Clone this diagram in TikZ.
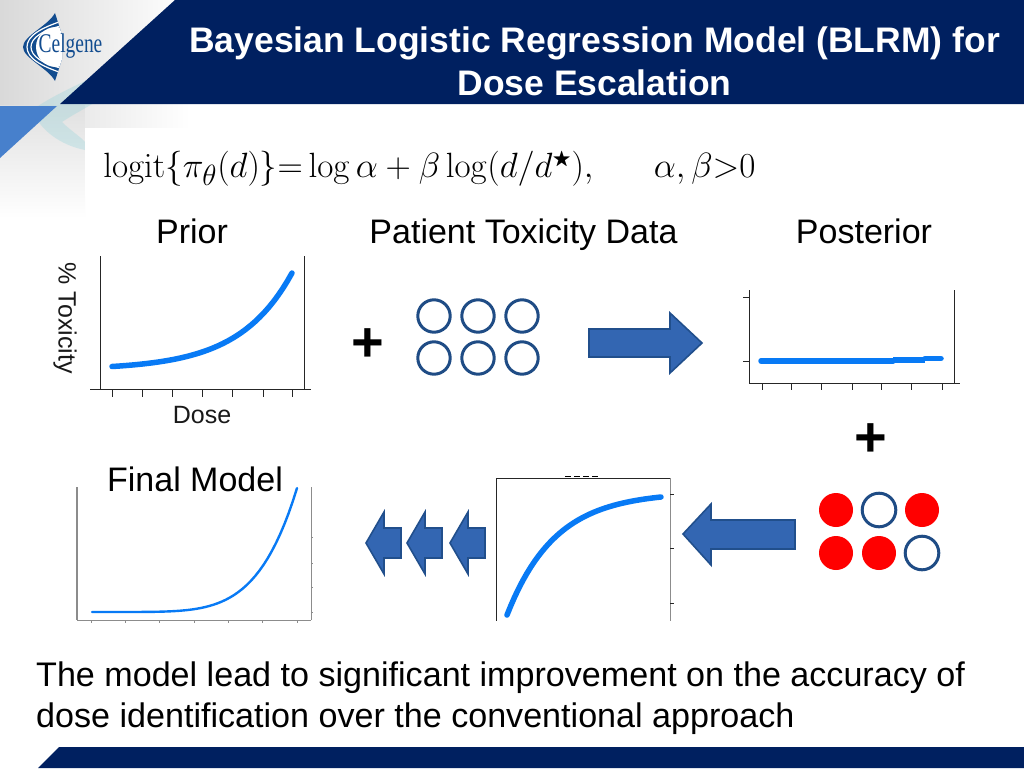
\documentclass[tikz,border=0pt]{standalone}
\usepackage{amsmath}
\usepackage{amssymb}
\usepackage[no-math]{fontspec}
\setmainfont{Liberation Sans}
\newfontfamily\logofont{Liberation Serif}
\usetikzlibrary{positioning}
\usetikzlibrary{fadings}
\definecolor{mnavy}{rgb}{0, 0.125, 0.376}
\definecolor{mblue}{rgb}{0.2, 0.4, 0.7}
\definecolor{mborder}{rgb}{0.13, 0.31, 0.55}
\definecolor{mring}{rgb}{0.12, 0.3, 0.52}
\definecolor{mcurve}{rgb}{0.03, 0.48, 0.96}
\definecolor{mteal}{rgb}{0.55, 0.82, 0.85}
\definecolor{mtri}{rgb}{0.28, 0.5, 0.8}
\definecolor{mlogo}{rgb}{0.07, 0.3, 0.56}
\tikzset{
  bigarrow/.style={draw=mborder, fill=mblue, line width=1.6pt, line join=miter},
  axisline/.style={line width=1pt, black!85},
  greyaxis/.style={line width=1pt, black!45},
  heading/.style={font=\fontsize{34}{34}\selectfont, text=black, inner sep=0pt, anchor=base},
  small/.style={font=\fontsize{25}{25}\selectfont, text=black!90, inner sep=0pt},
  plus/.style={font=\fontsize{56}{56}\selectfont\bfseries, text=black, inner sep=0pt},
  ring/.style={draw=mring, line width=3pt, fill=white},
  redring/.style={fill=red}
}

\begin{document}
\begin{tikzpicture}[x=1pt, y=-1pt]
      \useasboundingbox (0, 0) rectangle (1024, 768);
      % background
      \fill [white] (0, 0) rectangle (1024, 768);
      \shade [left color=black!15, right color=white] (0, 0) rectangle (190, 105);
      \shade [top color=black!12, bottom color=white] (0, 105) rectangle (85, 218);
      \shade [left color=black!8, right color=white] (85, 105) rectangle (190, 128);
      \fill [mteal, opacity=0.3] (32, 110) .. controls (75, 80) and (120, 75) .. (150, 28)
        -- (165, 18) .. controls (135, 90) and (95, 100) .. (62, 122)
        .. controls (75, 135) and (95, 145) .. (85, 150) .. controls (60, 145) and (40, 130) .. (32, 110);
      \fill [mnavy] (175, 0) -- (1024, 0) -- (1024, 104) -- (60, 104) -- (175, 0);
      \fill [mtri] (0, 106) -- (57, 106) -- (0, 158) -- (0, 106);
      \fill [mnavy] (59, 747) -- (1024, 747) -- (1024, 768) -- (38, 768) -- (59, 747);
      \fill [white] (85, 128) rectangle (1024, 196);
      % logo
      \begin{scope}
        \clip (55, 13) .. controls (48, 26) and (23, 36) .. (23, 47)
          .. controls (23, 58) and (48, 68) .. (55, 81) -- (62, 59) -- (62, 35) -- cycle;
        \fill [mlogo] (15, 5) rectangle (70, 90);
        \draw [white, line width=1.2pt] (65, 20) .. controls (40, 28) and (27, 36) .. (27, 47) .. controls (27, 58) and (40, 66) .. (65, 74);
        \draw [white, line width=1.2pt] (65, 25) .. controls (42, 30) and (31, 38) .. (31, 47) .. controls (31, 56) and (42, 64) .. (65, 69);
        \fill [white] (56, 47) circle (20);
      \end{scope}
      \node (logo) [text=mlogo, font=\logofont\fontsize{27}{27}\selectfont, inner sep=0pt, xscale=0.72] at (70.5, 46) {Celgene};
      % title and formula
      \node (title) [align=center, text=white, inner sep=0pt, font=\fontsize{35.5}{43}\selectfont\bfseries] at (594.5, 61.5)
        {Bayesian Logistic Regression Model (BLRM) for\\Dose Escalation};
      \node (formula) [inner sep=0pt, anchor=base west, text=black, scale=1.41, font=\fontsize{24.88}{30}\selectfont] at (103, 177)
        {$\mathrm{logit}\{\pi_{\theta}(d)\}{=}\log\alpha+\beta\log(d/d^{\scalebox{0.55}{$\bigstar$}}),\quad\ \ \alpha,\beta{>}0$};
      % headings
      \node (prior) [heading] at (192, 243) {Prior};
      \node (data) [heading] at (523.5, 243) {Patient Toxicity Data};
      \node (posterior) [heading] at (864, 243) {Posterior};
      \node (final) [heading] at (195, 491) {Final Model};
      \node (plusa) [plus] at (368, 345) {+};
      \node (plusb) [plus] at (871, 440) {+};
      % prior plot
      \draw [axisline] (100, 256) -- (100, 389);
      \draw [axisline] (304, 256) -- (304, 389);
      \draw [axisline] (90, 389) -- (311, 389);
      \foreach \x in {112, 142, 172, 202, 232, 263, 292}
        \draw [axisline] (\x, 389) -- (\x, 397);
      \draw [mcurve, line width=5.5pt, line cap=round] plot [domain=112:292, samples=40]
        (\x, {366.5 - 93.5*(exp(3.4*(\x - 112)/180) - 1)/(exp(3.4) - 1)});
      \node (dose) [small] at (202, 415) {Dose};
      \node (toxicity) [small, rotate=-90] at (65, 318) {\% Toxicity};
      % rings
      \foreach \x in {434, 478, 522}
        \foreach \y in {316, 358}
          \draw [ring] (\x, \y) circle (16.2);
      \draw [bigarrow] (589, 329) -- (670, 329) -- (670, 313) -- (702, 343) -- (670, 373) -- (670, 357) -- (589, 357) -- cycle;
      % posterior plot
      \draw [axisline] (749, 290) -- (749, 383);
      \draw [axisline] (954, 290) -- (954, 383);
      \draw [axisline] (749, 383) -- (960, 383);
      \foreach \y in {297, 361}
        \draw [axisline] (743, \y) -- (749, \y);
      \foreach \x in {762, 791, 821, 852, 881, 911, 942}
        \draw [axisline] (\x, 383) -- (\x, 390);
      \draw [mcurve, line width=5.5pt, line cap=round] (761, 361) -- (893, 361);
      \draw [mcurve, line width=5.5pt] (893, 360) -- (925, 360);
      \draw [mcurve, line width=5.5pt, line cap=round] (925, 358.5) -- (941, 358.5);
      % patient rings
      \foreach \x/\y/\c in {836/510/redring, 922/510/redring, 836/553/redring, 879/553/redring}
        \path [\c] (\x, \y) circle (17);
      \foreach \x/\y in {879/510, 922/553}
        \draw [ring] (\x, \y) circle (16.8);
      \draw [bigarrow] (795, 520) -- (711, 520) -- (711, 504) -- (683, 534) -- (711, 565) -- (711, 549) -- (795, 549) -- cycle;
      % middle plot
      \draw [axisline] (496, 478) -- (496, 621);
      \draw [axisline] (496, 478) -- (670, 478);
      \draw [greyaxis] (670, 478) -- (670, 621);
      \draw [black, line width=1.5pt, dash pattern=on 6pt off 3pt] (565, 476.5) -- (600, 476.5);
      \foreach \y in {494, 548, 603}
        \draw [axisline] (670, \y) -- (674, \y);
      \draw [mcurve, line width=5.5pt, line cap=round] plot [domain=507:661, samples=40]
        (\x, {615 - 118*(1 - exp(-3.2*(\x - 507)/154))/(1 - exp(-3.2))});
      \foreach \x in {366, 407, 450}
        \draw [bigarrow] (\x + 35, 528) -- (\x + 18, 528) -- (\x + 18, 512) -- (\x, 543) -- (\x + 18, 574) -- (\x + 18, 558) -- (\x + 35, 558) -- cycle;
      % final plot
      \draw [greyaxis, line width=1.4pt] (77, 487) -- (77, 620);
      \draw [greyaxis] (77, 620) -- (311, 620);
      \draw [greyaxis] (311, 487) -- (311, 620);
      \foreach \x in {91, 125, 159, 194, 228, 262, 297}
        \draw [greyaxis] (\x, 620) -- (\x, 623);
      \foreach \y in {537, 563, 587, 612}
        \draw [greyaxis] (311, \y) -- (313, \y);
      \draw [mcurve, line width=2.4pt, line cap=round] plot [domain=92:297, samples=50]
        (\x, {612 - 124*pow((\x - 91)/206, 5.45)});
      % conclusion
      \node (conclusion) [align=left, anchor=north west, inner sep=0pt, font=\fontsize{34.1}{41}\selectfont] at (36, 662)
        {The model lead to significant improvement on the accuracy of\\dose identification over the conventional approach};
    \end{tikzpicture}
\end{document}
